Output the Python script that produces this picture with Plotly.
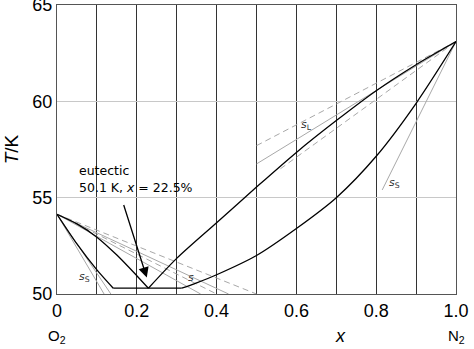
import plotly.graph_objects as go

# O2-rich branch: liquidus and solidus from the O2 melting point to the eutectic
liq_o2_x = [0.0, 0.05, 0.10, 0.15, 0.20, 0.229]
liq_o2_T = [54.14, 53.64, 52.95, 52.02, 50.95, 50.3]
sol_o2_x = [0.0, 0.05, 0.10, 0.141]
sol_o2_T = [54.14, 52.6, 51.25, 50.3]

# eutectic horizontal
eut_x = [0.141, 0.3125]
eut_T = [50.3, 50.3]

# N2-rich branch: liquidus and solidus up to the N2 melting point
liq_n2_x = [0.229, 0.30, 0.40, 0.50, 0.60, 0.70, 0.80, 0.90, 1.0]
liq_n2_T = [50.3, 51.85, 53.7, 55.55, 57.35, 59.0, 60.55, 61.9, 63.1]
sol_n2_x = [0.3125, 0.35, 0.40, 0.50, 0.60, 0.70, 0.80, 0.90, 1.0]
sol_n2_T = [50.3, 50.58, 51.0, 52.0, 53.4, 55.0, 57.15, 59.9, 63.1]

# limiting-slope lines near pure O2
o2_solid_x = [[0.0, 0.118], [0.0, 0.135], [0.0, 0.36], [0.0, 0.43]]
o2_solid_T = [[54.14, 50.0], [54.14, 50.0], [54.14, 50.0], [54.14, 50.0]]
o2_dash_x = [[0.0, 0.40], [0.0, 0.50]]
o2_dash_T = [[54.14, 50.0], [54.14, 50.0]]

# limiting-slope lines near pure N2
n2_solid_x = [[0.5, 1.0], [0.815, 1.0]]
n2_solid_T = [[56.75, 63.1], [55.4, 63.1]]
n2_dash_x = [[0.5, 1.0], [0.56, 1.0]]
n2_dash_T = [[57.7, 63.1], [56.5, 63.1]]

x_ticks = [0.0, 0.1, 0.2, 0.3, 0.4, 0.5, 0.6, 0.7, 0.8, 0.9, 1.0]
x_ticktext = ["0", "", "0.2", "", "0.4", "", "0.6", "", "0.8", "", "1.0"]
y_ticks = [50, 55, 60, 65]

GRAY = "#a8a8a8"
fig = go.Figure()

for xs, ts in zip(o2_solid_x + n2_solid_x, o2_solid_T + n2_solid_T):
    fig.add_trace(go.Scatter(x=xs, y=ts, mode="lines",
                             line=dict(color=GRAY, width=1)))
for xs, ts in zip(o2_dash_x + n2_dash_x, o2_dash_T + n2_dash_T):
    fig.add_trace(go.Scatter(x=xs, y=ts, mode="lines",
                             line=dict(color=GRAY, width=1, dash="6px,4px")))

for xs, ts in [(liq_o2_x, liq_o2_T), (sol_o2_x, sol_o2_T),
               (liq_n2_x, liq_n2_T), (sol_n2_x, sol_n2_T)]:
    fig.add_trace(go.Scatter(x=xs, y=ts, mode="lines",
                             line=dict(color="black", width=1.3,
                                       shape="spline", smoothing=0.8)))
fig.add_trace(go.Scatter(x=eut_x, y=eut_T, mode="lines",
                         line=dict(color="black", width=1.3)))

ann_font = dict(family="DejaVu Sans", size=12.5, color="black")
fig.add_annotation(x=0.225, y=50.85, ax=0.166, ay=54.7, axref="x", ayref="y",
                   xref="x", yref="y", showarrow=True, arrowhead=2,
                   arrowsize=1.6, arrowwidth=1.3, arrowcolor="black", text="")
fig.add_annotation(x=0.05, y=56.4, xref="x", yref="y", showarrow=False,
                   xanchor="left", yanchor="middle", text="eutectic", font=ann_font)
fig.add_annotation(x=0.05, y=55.55, xref="x", yref="y", showarrow=False,
                   xanchor="left", yanchor="middle",
                   text="50.1 K, <i>x</i> = 22.5%", font=ann_font)

lab_font = dict(family="DejaVu Sans", size=11, color="#333333")
fig.add_annotation(x=0.07, y=50.9, text="<i>s</i><sub>S</sub>", showarrow=False, font=lab_font)
fig.add_annotation(x=0.337, y=50.85, text="<i>s</i>", showarrow=False, font=lab_font)
fig.add_annotation(x=0.625, y=58.75, text="<i>s</i><sub>L</sub>", showarrow=False, font=lab_font)
fig.add_annotation(x=0.845, y=55.75, text="<i>s</i><sub>S</sub>", showarrow=False, font=lab_font)

bot_font = dict(family="Liberation Sans", size=15, color="black")
bot_y = -0.187
fig.add_annotation(x=0.0, y=bot_y, xref="x", yref="paper", text="O<sub>2</sub>",
                   showarrow=False, font=bot_font, yanchor="bottom")
fig.add_annotation(x=1.0, y=bot_y, xref="x", yref="paper", text="N<sub>2</sub>",
                   showarrow=False, font=bot_font, yanchor="bottom")
fig.add_annotation(x=0.71, y=bot_y, xref="x", yref="paper", text="<i>x</i>",
                   showarrow=False, font=dict(family="Liberation Sans", size=18),
                   yanchor="bottom")

fig.update_layout(
    width=474, height=349,
    margin=dict(l=57, r=18, t=5, b=55),
    paper_bgcolor="white", plot_bgcolor="white",
    showlegend=False,
    font=dict(family="Liberation Sans", size=18, color="black"),
)
fig.update_xaxes(range=[0, 1], tickvals=x_ticks, ticktext=x_ticktext,
                 showgrid=True, gridcolor="#333", gridwidth=1.3,
                 showline=True, linecolor="#555", linewidth=1.3, mirror=True,
                 ticks="", zeroline=False, tickfont=dict(size=18),
                 ticklabeloverflow="allow", automargin=False)
fig.update_yaxes(range=[50, 65], tickvals=y_ticks,
                 showgrid=True, gridcolor="#c8c8c8", gridwidth=1,
                 showline=True, linecolor="#555", linewidth=1.3, mirror=True,
                 ticks="", zeroline=False, tickfont=dict(size=18),
                 ticklabeloverflow="allow", automargin=False,
                 title=dict(text="<i>T</i>/K", font=dict(size=19), standoff=8))

fig.write_html("out.html")
